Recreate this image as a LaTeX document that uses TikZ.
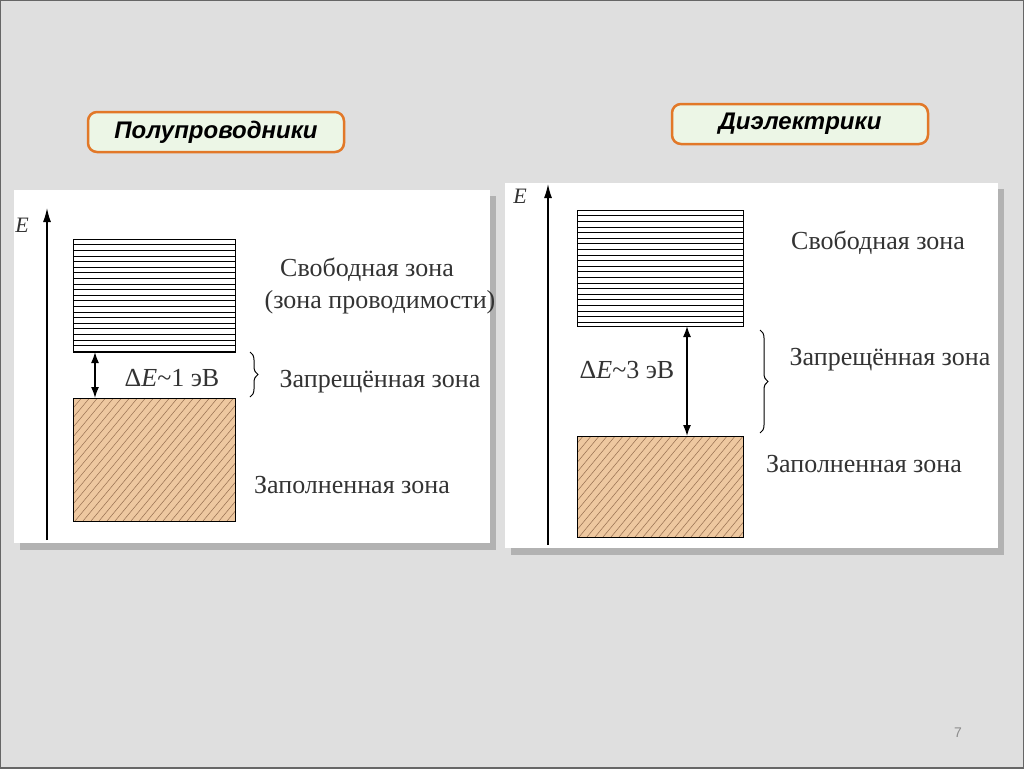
\documentclass[tikz,border=0pt]{standalone}
\usepackage{fontspec}
\setmainfont{Liberation Serif}
\newfontfamily\titlefont{Liberation Sans}
\usetikzlibrary{decorations.pathreplacing,arrows.meta}
\definecolor{bg}{RGB}{223,223,223}
\definecolor{tan}{RGB}{238,200,160}
\definecolor{hatchc}{RGB}{150,110,80}
\definecolor{tbox}{RGB}{236,246,230}
\definecolor{tborder}{RGB}{226,120,40}
\tikzset{
 panel/.style={fill=white,draw=none},
 shadow/.style={fill=black!30,draw=none},
 titlebox/.style={draw=tborder,line width=2.5pt,fill=tbox,rounded corners=9pt,font=\titlefont\bfseries\itshape\fontsize{24}{28}\selectfont},
 lbl/.style={font=\fontsize{26}{30}\selectfont,text=black!80},
 axis/.style={line width=1.3pt,-{Latex[length=14pt,width=8pt]}},
 dbl/.style={line width=1.5pt,{Latex[length=11pt,width=8pt]}-{Latex[length=11pt,width=8pt]}},
 zone/.style={draw=black,line width=1pt},
 brace/.style={decorate,decoration={brace,amplitude=8pt},line width=1pt}
}
\newcommand{\freezone}[4]{% x1 y1 x2 y2
 \pgfmathtruncatemacro{\nl}{(#4-#2)/5.6}
 \foreach \i in {1,...,\nl}{\draw[line width=0.6pt] (#1,#2+5.6*\i) -- (#3,#2+5.6*\i);}
 \draw[zone] (#1,#2) rectangle (#3,#4);}
\newcommand{\fillzone}[4]{%
 \fill[tan] (#1,#2) rectangle (#3,#4);
 \begin{scope}\clip (#1,#2) rectangle (#3,#4);
 \foreach \k in {0,8,...,320}{\draw[hatchc,line width=0.5pt] (#1+\k-150,#4) -- (#1+\k,#4-180);}
 \end{scope}
 \draw[zone] (#1,#2) rectangle (#3,#4);}
\begin{document}
\begin{tikzpicture}[x=1pt,y=-1pt]
\useasboundingbox (0,0) rectangle (1024,768);
\fill[bg] (0,0) rectangle (1024,768);
\draw[black!60,line width=1.5pt] (0,0) rectangle (1024,768);
% panels
\fill[shadow] (20,196) rectangle (496,550);
\fill[panel] (14,190) rectangle (490,543);
\fill[shadow] (511,189) rectangle (1004,555);
\fill[panel] (505,183) rectangle (998,548);
% titles
\node[titlebox,minimum width=256pt,minimum height=40pt] (t1) at (216,132) {Полупроводники};
\node[titlebox,minimum width=256pt,minimum height=40pt] (t2) at (800,124) {Диэлектрики};
% left diagram
\coordinate (a1s) at (47,540); \coordinate (a1e) at (47,208);
\draw[axis] (a1s) -- (a1e);
\node[font=\itshape\fontsize{22}{24}\selectfont,text=black!80] (e1) at (22,225) {E};
\freezone{73}{239}{235}{352}
\fillzone{73}{398}{235}{521}
\coordinate (d1a) at (95,352); \coordinate (d1b) at (95,398);
\draw[dbl] (d1a) -- (d1b);
\node[lbl] (de1) at (172,378) {Δ\textit{E}\textasciitilde1 эВ};
\coordinate (b1a) at (250,352); \coordinate (b1b) at (250,397);
\draw[brace] (b1a) -- (b1b);
\node[lbl] (f1) at (367,270) {Свободная зона};
\node[lbl] (f1b) at (380,302) {(зона проводимости)};
\node[lbl] (z1) at (380,382) {Запрещённая зона};
\node[lbl] (p1) at (352,485) {Заполненная зона};
% right diagram
\coordinate (a2s) at (548,545); \coordinate (a2e) at (548,184);
\draw[axis] (a2s) -- (a2e);
\node[font=\itshape\fontsize{22}{24}\selectfont,text=black!80] (e2) at (520,196) {E};
\freezone{577}{210}{743}{326}
\fillzone{577}{436}{743}{537}
\coordinate (d2a) at (687,326); \coordinate (d2b) at (687,436);
\draw[dbl] (d2a) -- (d2b);
\node[lbl] (de2) at (627,370) {Δ\textit{E}\textasciitilde3 эВ};
\coordinate (b2a) at (760,330); \coordinate (b2b) at (760,433);
\draw[brace] (b2a) -- (b2b);
\node[lbl] (f2) at (878,243) {Свободная зона};
\node[lbl] (z2) at (890,360) {Запрещённая зона};
\node[lbl] (p2) at (864,464) {Заполненная зона};
\node[text=black!45,font=\titlefont\fontsize{14}{16}\selectfont] (pg) at (958,733) {7};
\end{tikzpicture}
\end{document}
